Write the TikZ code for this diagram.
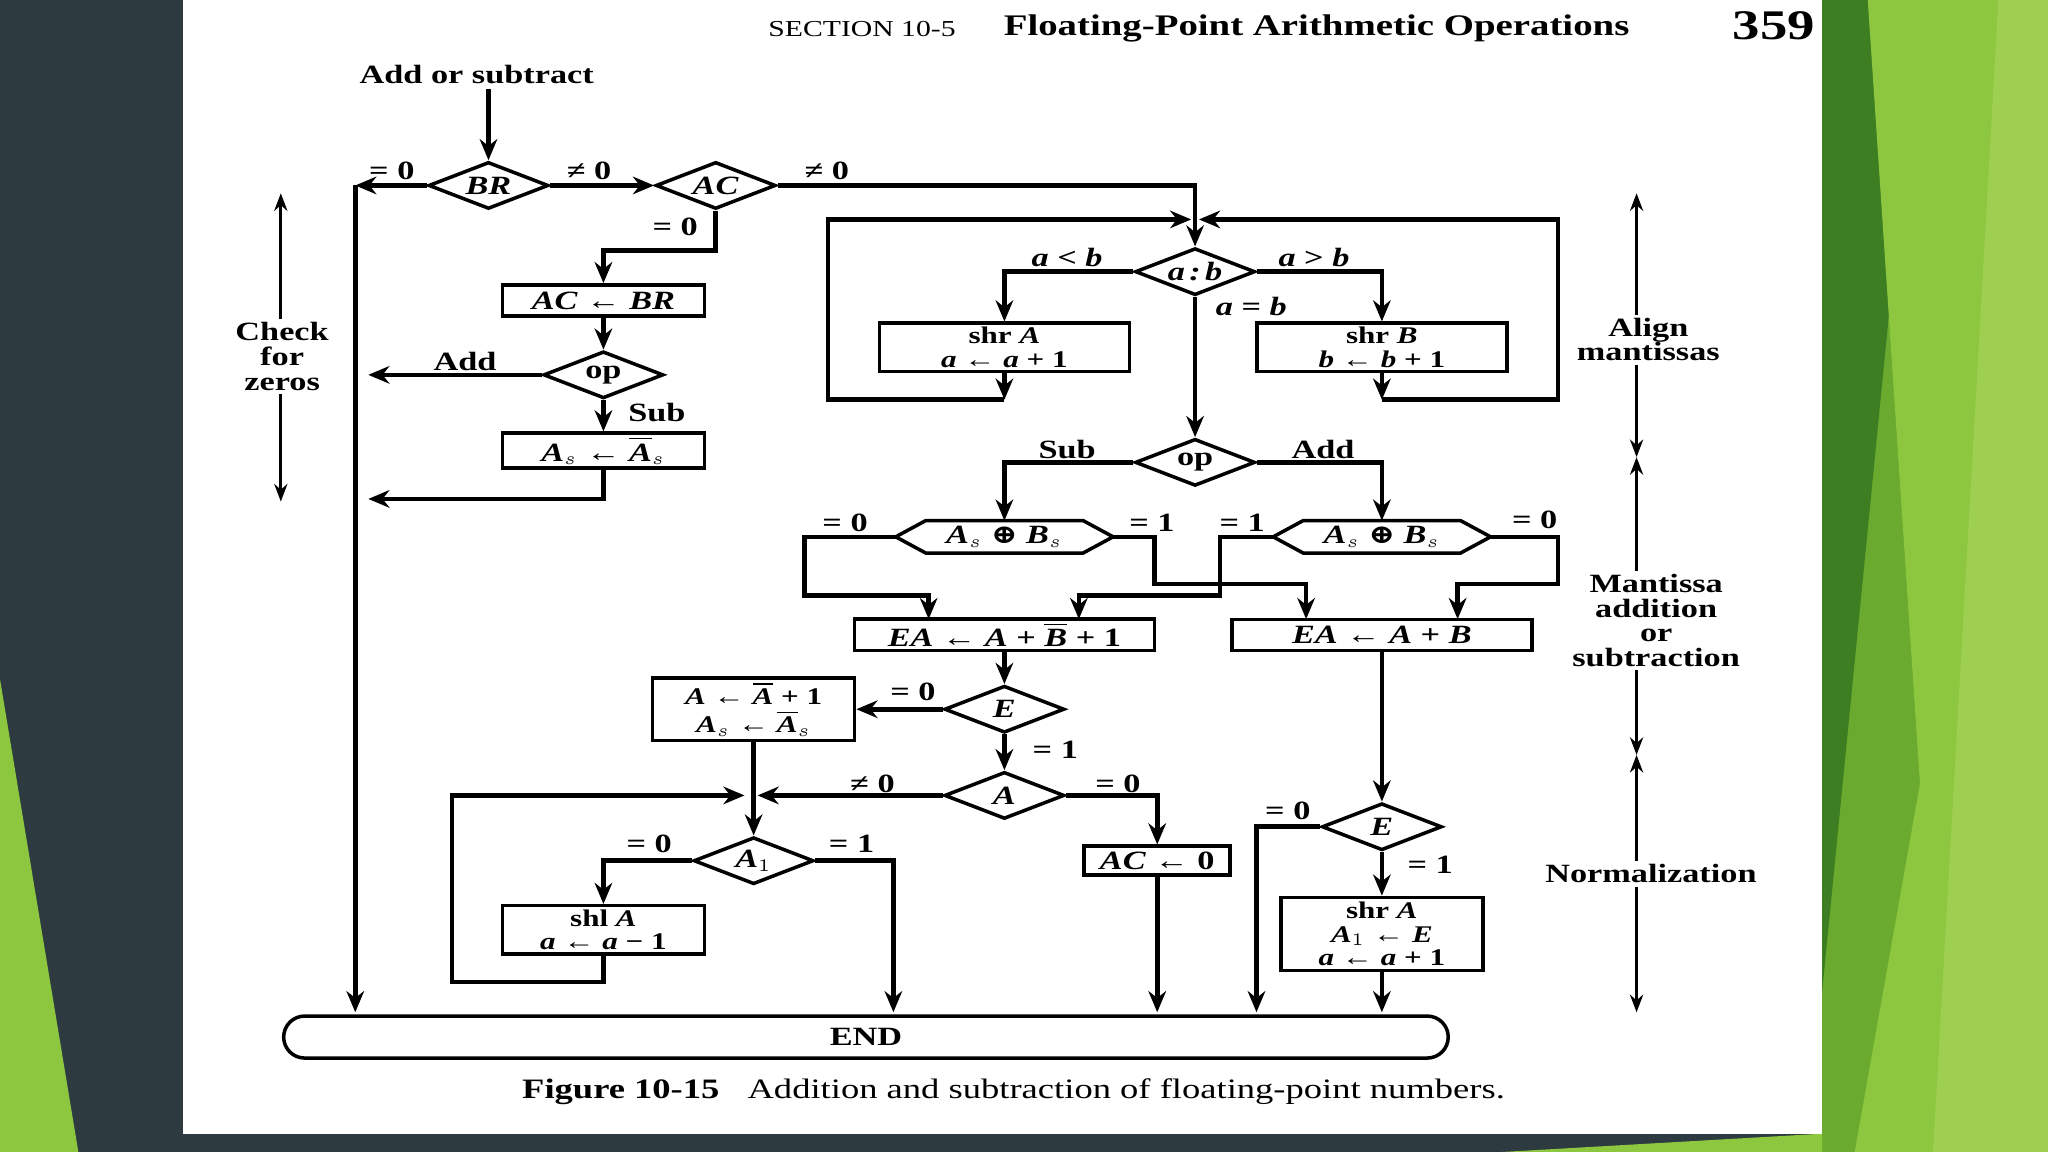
\documentclass[tikz,border=0pt]{standalone}
\usepackage{fontspec}
\setmainfont{Liberation Serif}[FakeStretch=1.3]
\newfontfamily\symf{DejaVu Serif}[FakeStretch=1.2]
\usetikzlibrary{shapes.geometric,shapes.misc,arrows.meta}
\definecolor{dk}{HTML}{2D3B41}
\definecolor{g1}{HTML}{3E7E22}
\definecolor{g2}{HTML}{6AAA2E}
\definecolor{g3}{HTML}{8DC63F}
\definecolor{g4}{HTML}{9FCF50}
\newcommand{\ox}{{\symf\bfseries ⊕}}
\newcommand{\ola}[1]{$\overline{\mbox{#1}}$}
\begin{document}
\begin{tikzpicture}[x=0.01306cm,y=-0.01306cm,
  every node/.style={font=\fontsize{7.5}{7.5}\selectfont\bfseries},
  ar/.style={line width=1.3pt,-{Stealth[length=6pt,width=5pt]}},
  box/.style={draw,line width=1pt,minimum width=2.02cm,minimum height=0.31cm,inner sep=1pt,align=center},
  mbox/.style={box,inner xsep=1pt,inner ysep=1.2pt,font=\fontsize{6.8}{6.6}\selectfont\bfseries},
  dia/.style={draw,line width=1pt,diamond,aspect=2.6,minimum width=1.2cm,minimum height=0.47cm,inner sep=0pt},
  hexn/.style={minimum width=2.16cm,minimum height=0.31cm,inner sep=0pt},
  lab/.style={inner sep=1pt}]
\useasboundingbox (0,0) rectangle (1568,882);
% background
\fill[g2] (1395,0) rectangle (1568,882);
\fill[g1] (1395,0) -- (1470,0) -- (1395,760) -- cycle;
\fill[g3] (1430,0) -- (1568,0) -- (1568,882) -- (1420,882) -- (1470,600) -- cycle;
\fill[g4] (1530,0) -- (1568,0) -- (1568,882) -- (1480,882) -- cycle;
\fill[dk] (0,0) rectangle (140,882);
\fill[dk] (0,868) rectangle (1395,882);
\fill[g3] (0,520) -- (60,882) -- (0,882) -- cycle;
\fill[g3] (1150,882) -- (1395,868) -- (1395,882) -- cycle;
\fill[white] (140,0) rectangle (1395,868);
% header
\node[lab,font=\fontsize{6.5}{7}\selectfont] (hdr) at (660,22) {SECTION 10-5};
\node[lab,font=\fontsize{8.5}{9}\selectfont\bfseries] (hdr2) at (1008,22) {Floating-Point Arithmetic Operations};
\node[lab,font=\fontsize{12}{13}\selectfont\bfseries] (pg) at (1358,20) {359};
\node[lab] (start) at (365,57) {Add or subtract};
\coordinate (st) at (374,68);
% nodes
\node[dia] (br) at (374,142) {\textit{BR}};
\node[dia] (ac) at (548,142) {\textit{AC}};
\node[box] (acbr) at (462,230) {\textit{AC} ← \textit{BR}};
\node[dia] (op1) at (462,287) {op};
\node[box] (asn) at (462,345) {\textit{A$_s$} ← \textit{\ola{A}$_s$}};
\node[dia] (ab) at (915,208) {\textit{a\,:\,b}};
\node[mbox,minimum width=2.5cm] (shra) at (769,266) {shr \textit{A}\\\textit{a} ← \textit{a} + 1};
\node[mbox,minimum width=2.5cm] (shrb) at (1058,266) {shr \textit{B}\\\textit{b} ← \textit{b} + 1};
\node[dia] (op2) at (915,354) {op};
\node[hexn] (x1) at (769,411) {\textit{A$_s$} \ox\ \textit{B$_s$}};
\node[hexn] (x2) at (1058,411) {\textit{A$_s$} \ox\ \textit{B$_s$}};
\foreach \h in {x1,x2}{
 \draw[line width=1pt] (\h.west) -- ([xshift=0.3cm]\h.north west) -- ([xshift=-0.3cm]\h.north east) -- (\h.east) -- ([xshift=-0.3cm]\h.south east) -- ([xshift=0.3cm]\h.south west) -- cycle;}
\node[box,minimum width=3cm] (ea1) at (769,486) {\textit{EA} ← \textit{A} + \textit{\ola{B}} + 1};
\node[box,minimum width=3cm] (ea2) at (1058,486) {\textit{EA} ← \textit{A} + \textit{B}};
\node[dia] (e1) at (769,543) {\textit{E}};
\node[mbox,font=\fontsize{6.8}{8}\selectfont\bfseries] (comp) at (577,543) {\textit{A} ← \textit{\ola{A}} + 1\\\textit{A$_s$} ← \textit{\ola{A}$_s$}};
\node[dia] (a) at (769,609) {\textit{A}};
\node[box,minimum width=1.46cm,minimum height=0.29cm] (ac0) at (886,659) {\textit{AC} ← 0};
\node[dia] (a1) at (577,659) {\textit{A}$_1$};
\node[mbox] (shl) at (462,712) {shl \textit{A}\\\textit{a} ← \textit{a} − 1};
\node[dia] (e2) at (1058,633) {\textit{E}};
\node[mbox,minimum height=0.73cm] (norm) at (1058,715) {shr \textit{A}\\\textit{A}$_1$ ← \textit{E}\\\textit{a} ← \textit{a} + 1};
\node[draw,line width=1pt,rounded rectangle,minimum width=11.88cm,minimum height=0.42cm] (end) at (663,794) {END};
% connectors
\draw[ar] (st) -- (br.north);
\draw[ar] (br.west) -- (272,142);
\draw[ar] (272,142) -- (272,775);
\node[lab] at (300,131) {= 0};
\draw[ar] (br.east) -- (ac.west);
\node[lab] at (451,131) {≠ 0};
\draw[ar] (ac.east) -| (ab.north);
\node[lab] at (633,131) {≠ 0};
\draw[ar] (ac.south) |- (462,192) -- (acbr.north);
\node[lab] at (517,174) {= 0};
\draw[ar] (acbr) -- (op1);
\draw[ar] (op1.west) -- (282,287);
\node[lab] at (356,277) {Add};
\draw[ar] (op1) -- (asn);
\node[lab] at (503,316) {Sub};
\draw[ar] (asn.south) |- (282,382);
% align loop
\draw[ar] (ab.west) -| (shra.north);
\node[lab] at (817,197) {\textit{a} < \textit{b}};
\draw[ar] (shra.south) -- (769,306);
\draw[ar] (769,306) -| (634,168) -- (912,168);
\draw[ar] (ab.east) -| (shrb.north);
\node[lab] at (1006,197) {\textit{a} > \textit{b}};
\draw[ar] (shrb.south) -- (1058,306);
\draw[ar] (1058,306) -| (1193,168) -- (918,168);
\draw[ar] (ab.south) -- (op2.north);
\node[lab] at (958,235) {\textit{a} = \textit{b}};
\draw[ar] (op2.west) -| (x1.north);
\node[lab] at (817,344) {Sub};
\draw[ar] (op2.east) -| (x2.north);
\node[lab] at (1013,344) {Add};
% xor branches
\draw[ar] (x1.west) -| (616,456) -| (711,474);
\node[lab] at (647,400) {= 0};
\draw[ar] (x1.east) -| (884,447) -| (1000,474);
\node[lab] at (882,400) {= 1};
\draw[ar] (x2.west) -| (934,456) -| (826,474);
\node[lab] at (951,400) {= 1};
\draw[ar] (x2.east) -| (1193,447) -| (1116,474);
\node[lab] at (1175,398) {= 0};
% lower left
\draw[ar] (ea1) -- (e1);
\draw[ar] (e1.west) -- (comp.east);
\node[lab] at (699,530) {= 0};
\draw[ar] (e1) -- (a);
\node[lab] at (808,574) {= 1};
\draw[ar] (a.west) -- (580,609);
\node[lab] at (668,600) {≠ 0};
\draw[ar] (comp.south) -- (a1.north);
\draw[ar] (a.east) -| (ac0.north);
\node[lab] at (856,600) {= 0};
\draw[ar] (ac0.south) -- (886,775);
\draw[ar] (a1.west) -| (shl.north);
\node[lab] at (497,646) {= 0};
\draw[ar] (a1.east) -| (684,775);
\node[lab] at (652,646) {= 1};
\draw[ar] (shl.south) |- (346,752) |- (570,609);
% lower right
\draw[ar] (ea2) -- (e2);
\draw[ar] (e2.west) -| (962,775);
\node[lab] at (986,621) {= 0};
\draw[ar] (e2) -- (norm);
\node[lab] at (1095,662) {= 1};
\draw[ar] (norm.south) -- (1058,775);
% side labels
\draw[line width=0.8pt,{Stealth[length=5pt]}-{Stealth[length=5pt]}] (215,148) -- (215,384);
\node[lab,fill=white,align=center,font=\fontsize{7.5}{7}\selectfont\bfseries] at (216,273) {Check\\for\\zeros};
\draw[line width=0.8pt,{Stealth[length=5pt]}-{Stealth[length=5pt]}] (1253,148) -- (1253,350);
\draw[line width=0.8pt,{Stealth[length=5pt]}-{Stealth[length=5pt]}] (1253,350) -- (1253,578);
\draw[line width=0.8pt,{Stealth[length=5pt]}-{Stealth[length=5pt]}] (1253,578) -- (1253,775);
\node[lab,fill=white,align=center,font=\fontsize{7.5}{7}\selectfont\bfseries] at (1262,260) {Align\\mantissas};
\node[lab,fill=white,align=center,font=\fontsize{7.5}{7}\selectfont\bfseries] at (1268,475) {Mantissa\\addition\\or\\subtraction};
\node[lab,fill=white] at (1264,669) {Normalization};
\node[lab,font=\fontsize{8}{9}\selectfont] (cap) at (776,836) {\textbf{Figure 10-15}\quad\mdseries Addition and subtraction of floating-point numbers.};
\end{tikzpicture}
\end{document}
